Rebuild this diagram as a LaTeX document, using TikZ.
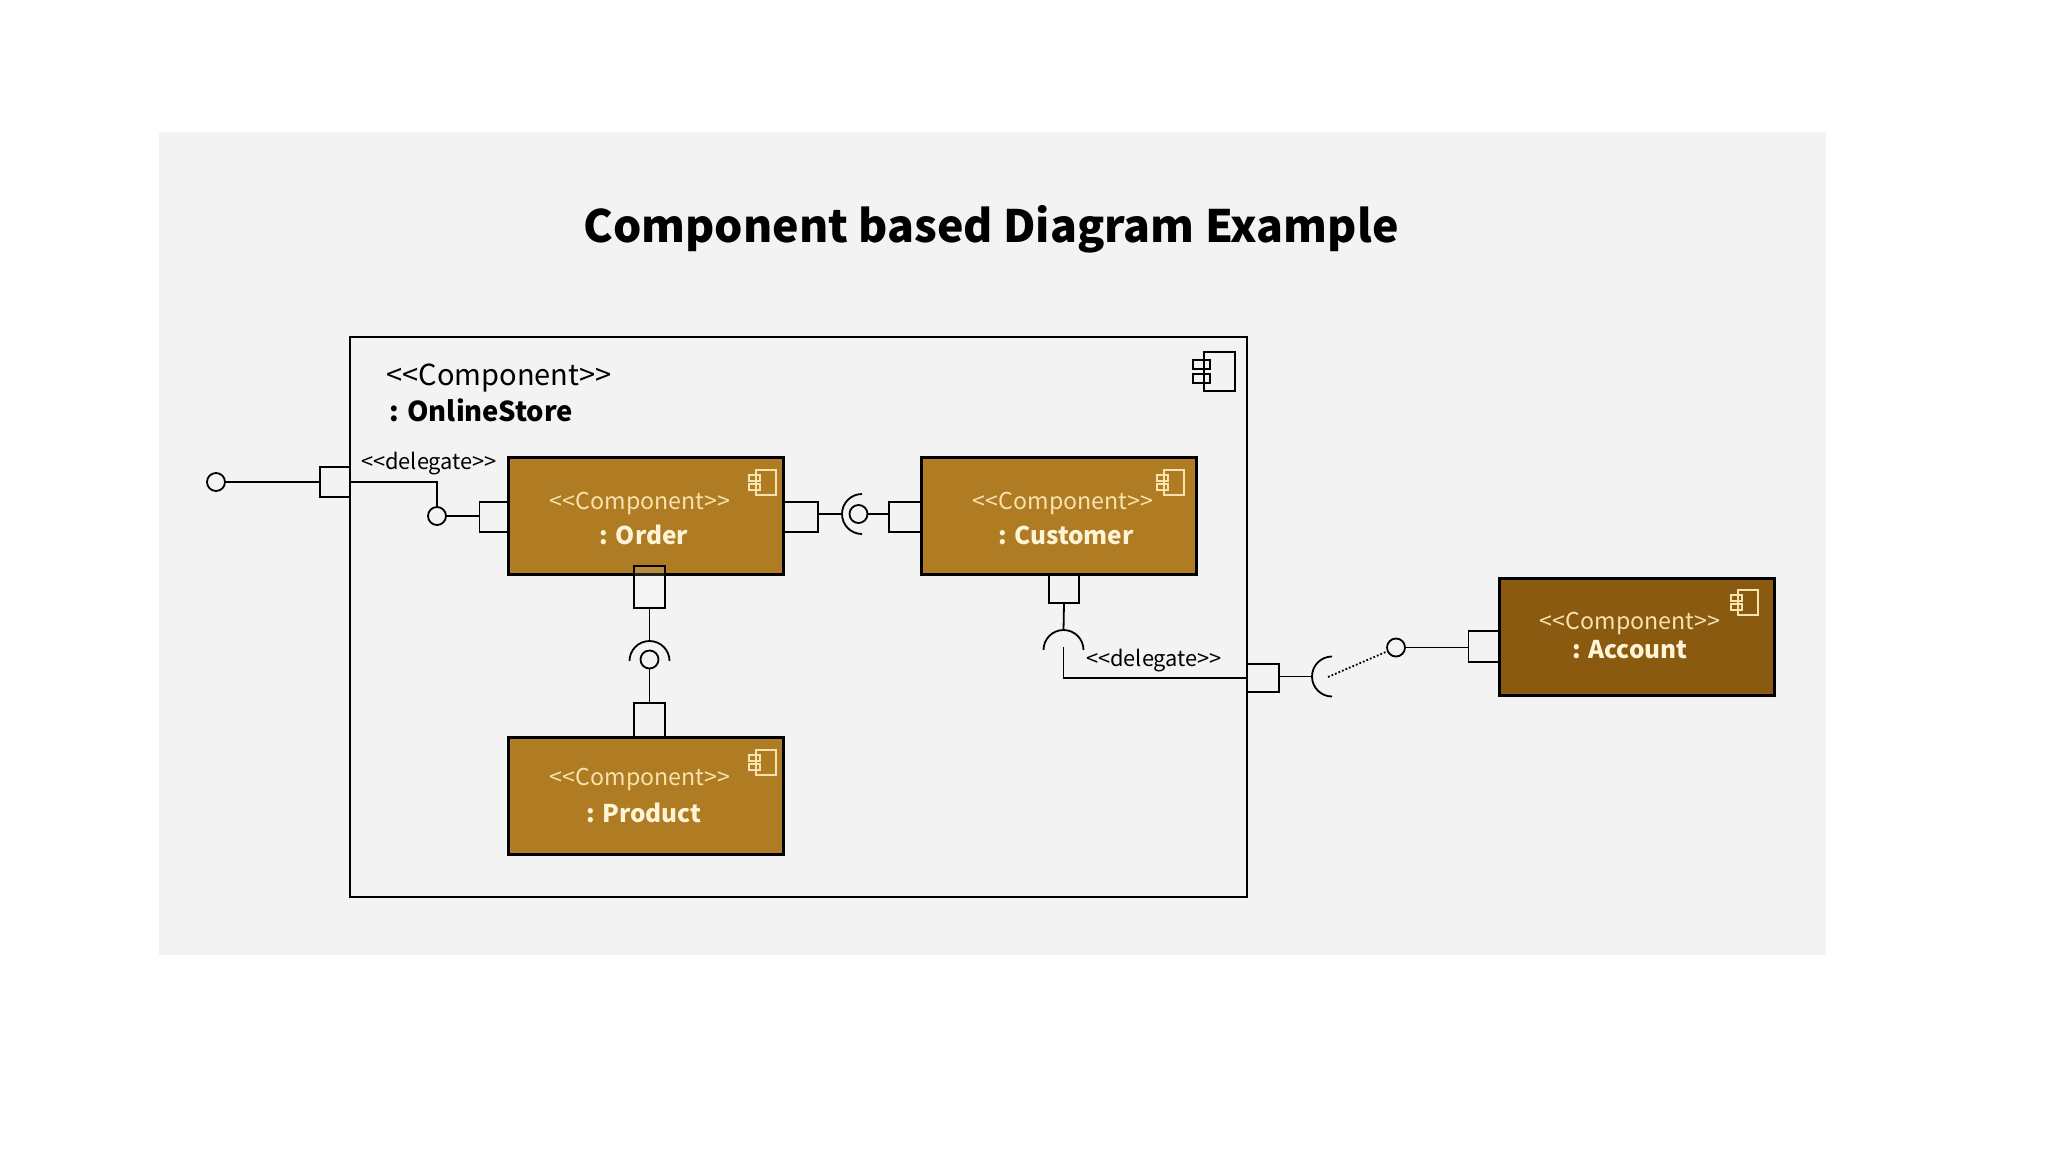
\documentclass[tikz,border=0pt]{standalone}
\usepackage{fontspec}
\setmainfont{Noto Sans CJK SC}
\usetikzlibrary{positioning}
\definecolor{panelgray}{HTML}{F3F3F3}
\definecolor{boxbrown}{HTML}{AF7B23}
\definecolor{boxdark}{HTML}{8A5A10}
\definecolor{labelpale}{HTML}{F8E3AE}
\definecolor{namepale}{HTML}{FFF4D6}
\tikzset{
	comp/.style={draw=black,line width=1.5pt,minimum width=137.5pt,minimum height=58.5pt,inner sep=0pt,outer sep=0pt},
	port/.style n args={2}{draw=black,line width=.9pt,minimum width=#1,minimum height=#2,inner sep=0pt,outer sep=0pt},
	lolly/.style={draw=black,line width=.9pt,circle,minimum size=9pt,inner sep=0pt,outer sep=0pt},
	wire/.style={draw=black,line width=.9pt},
	stereo/.style={text=labelpale,font=\fontsize{11.6}{14}\selectfont,inner sep=0pt},
	compname/.style={text=namepale,font=\fontsize{12.2}{14}\selectfont\bfseries,inner sep=0pt},
	delegate/.style={text=black,font=\fontsize{10.9}{12}\selectfont,inner sep=0pt},
	icon/.pic={
		\draw[pic actions] (0,0) rectangle (10pt,-12.5pt);
		\draw[pic actions] (-3.5pt,-2.5pt) rectangle (2pt,-5.5pt);
		\draw[pic actions] (-3.5pt,-7pt) rectangle (2pt,-10pt);
	}
}
\begin{document}
\begin{tikzpicture}[x=0.5pt,y=-0.5pt]
	\useasboundingbox (0,0) rectangle (2048,1152);
	\fill[panelgray] (159,132) rectangle (1826,955);
	\node[font=\fontsize{22.3}{28}\selectfont\bfseries,inner sep=0pt] (title) at (991,229) {Component based Diagram Example};

	\node[draw=black,line width=.8pt,minimum width=448.5pt,minimum height=280pt,inner sep=0pt,outer sep=0pt] (store) at (798.5,617) {};
	\node[anchor=west,font=\fontsize{14.5}{18}\selectfont,inner sep=0pt] (storeStereo) at (386,378) {<{}<Component>{}>};
	\node[anchor=west,font=\fontsize{13.7}{18}\selectfont\bfseries,inner sep=0pt] (storeName) at (389,410) {: OnlineStore};
	\pic[draw=black,line width=.8pt,scale=1.55] at (1204,352) {icon};

	\node[comp,fill=boxbrown] (order) at (646,516) {};
	\node[comp,fill=boxbrown] (customer) at (1059,516) {};
	\node[comp,fill=boxbrown] (product) at (646,796) {};
	\node[comp,fill=boxdark] (account) at (1637,636.5) {};

	\node[stereo] (orderStereo) at (640,503) {<{}<Component>{}>};
	\node[compname] (orderName) at (644,535) {: Order};
	\node[stereo] (customerStereo) at (1063,503) {<{}<Component>{}>};
	\node[compname] (customerName) at (1066,535) {: Customer};
	\node[stereo] (productStereo) at (640,779) {<{}<Component>{}>};
	\node[compname] (productName) at (644,813) {: Product};
	\node[stereo] (accountStereo) at (1630,623) {<{}<Component>{}>};
	\node[compname] (accountName) at (1630,650) {: Account};

	\pic[draw=labelpale,line width=.6pt] at (756,470) {icon};
	\pic[draw=labelpale,line width=.6pt] at (1164,470) {icon};
	\pic[draw=labelpale,line width=.6pt] at (756,750) {icon};
	\pic[draw=labelpale,line width=.6pt] at (1738,590) {icon};

	\node[port={15pt}{15pt}] (storeIn) at (335,482) {};
	\node[port={16pt}{14pt}] (storeOut) at (1263,678) {};
	\node[port={14.5pt}{15pt}] (orderLeft) at (494,517) {};
	\node[port={17pt}{15pt}] (orderRight) at (801,517) {};
	\node[port={15.5pt}{21pt},fill=white,fill opacity=.12] (orderBottom) at (649.5,587) {};
	\node[port={16pt}{15pt}] (customerLeft) at (905,517) {};
	\node[port={15pt}{14pt}] (customerBottom) at (1064,589) {};
	\node[port={15.5pt}{17.5pt}] (productTop) at (649.5,720.5) {};
	\node[port={15pt}{15.5pt}] (accountLeft) at (1483.5,646.5) {};

	\node[lolly] (lollyIn) at (216,482) {};
	\node[lolly] (lollyOrder) at (437,516) {};
	\node[lolly] (lollyCustomer) at (858.5,514) {};
	\node[lolly] (lollyProduct) at (649.5,659.5) {};
	\node[lolly] (lollyAccount) at (1396,647.5) {};

	\coordinate (socketOrder) at (862,514);
	\coordinate (socketProduct) at (649.5,661);
	\coordinate (socketCustomer) at (1063.5,650);
	\coordinate (socketAccount) at (1332,676.5);
	\coordinate (customerEnd) at (1063.5,647);
	\coordinate (accountEnd) at (1328,677);

	\draw[wire] ([yshift=-10pt]socketOrder) arc (270:90:10pt);
	\draw[wire] ([xshift=-10pt]socketProduct) arc (180:0:10pt);
	\draw[wire] ([xshift=-10pt]socketCustomer) arc (180:0:10pt);
	\draw[wire] ([yshift=-10pt]socketAccount) arc (270:90:10pt);

	\draw[wire] (lollyIn) -- (storeIn);
	\draw[wire] (storeIn.east) -| (lollyOrder.north);
	\draw[wire] (lollyOrder) -- (orderLeft.west |- lollyOrder);
	\draw[wire] (orderRight.east |- socketOrder) -- ([xshift=-10pt]socketOrder);
	\draw[wire] (lollyCustomer) -- (customerLeft.west |- lollyCustomer);
	\draw[wire] (orderBottom.south) -- ([yshift=10pt]socketProduct);
	\draw[wire] (lollyProduct) -- (productTop);
	\draw[wire] (customerBottom.south) -- ([yshift=10pt]socketCustomer);
	\draw[wire] (customerEnd) |- (storeOut.west);
	\draw[wire] (storeOut.east |- socketAccount) -- ([xshift=-10pt]socketAccount);
	\draw[wire,densely dotted] (accountEnd) -- (lollyAccount);
	\draw[wire] (lollyAccount) -- (accountLeft.west |- lollyAccount);

	\node[delegate] (delegateIn) at (429,464) {<{}<delegate>{}>};
	\node[delegate] (delegateOut) at (1154,661) {<{}<delegate>{}>};
\end{tikzpicture}
\end{document}
